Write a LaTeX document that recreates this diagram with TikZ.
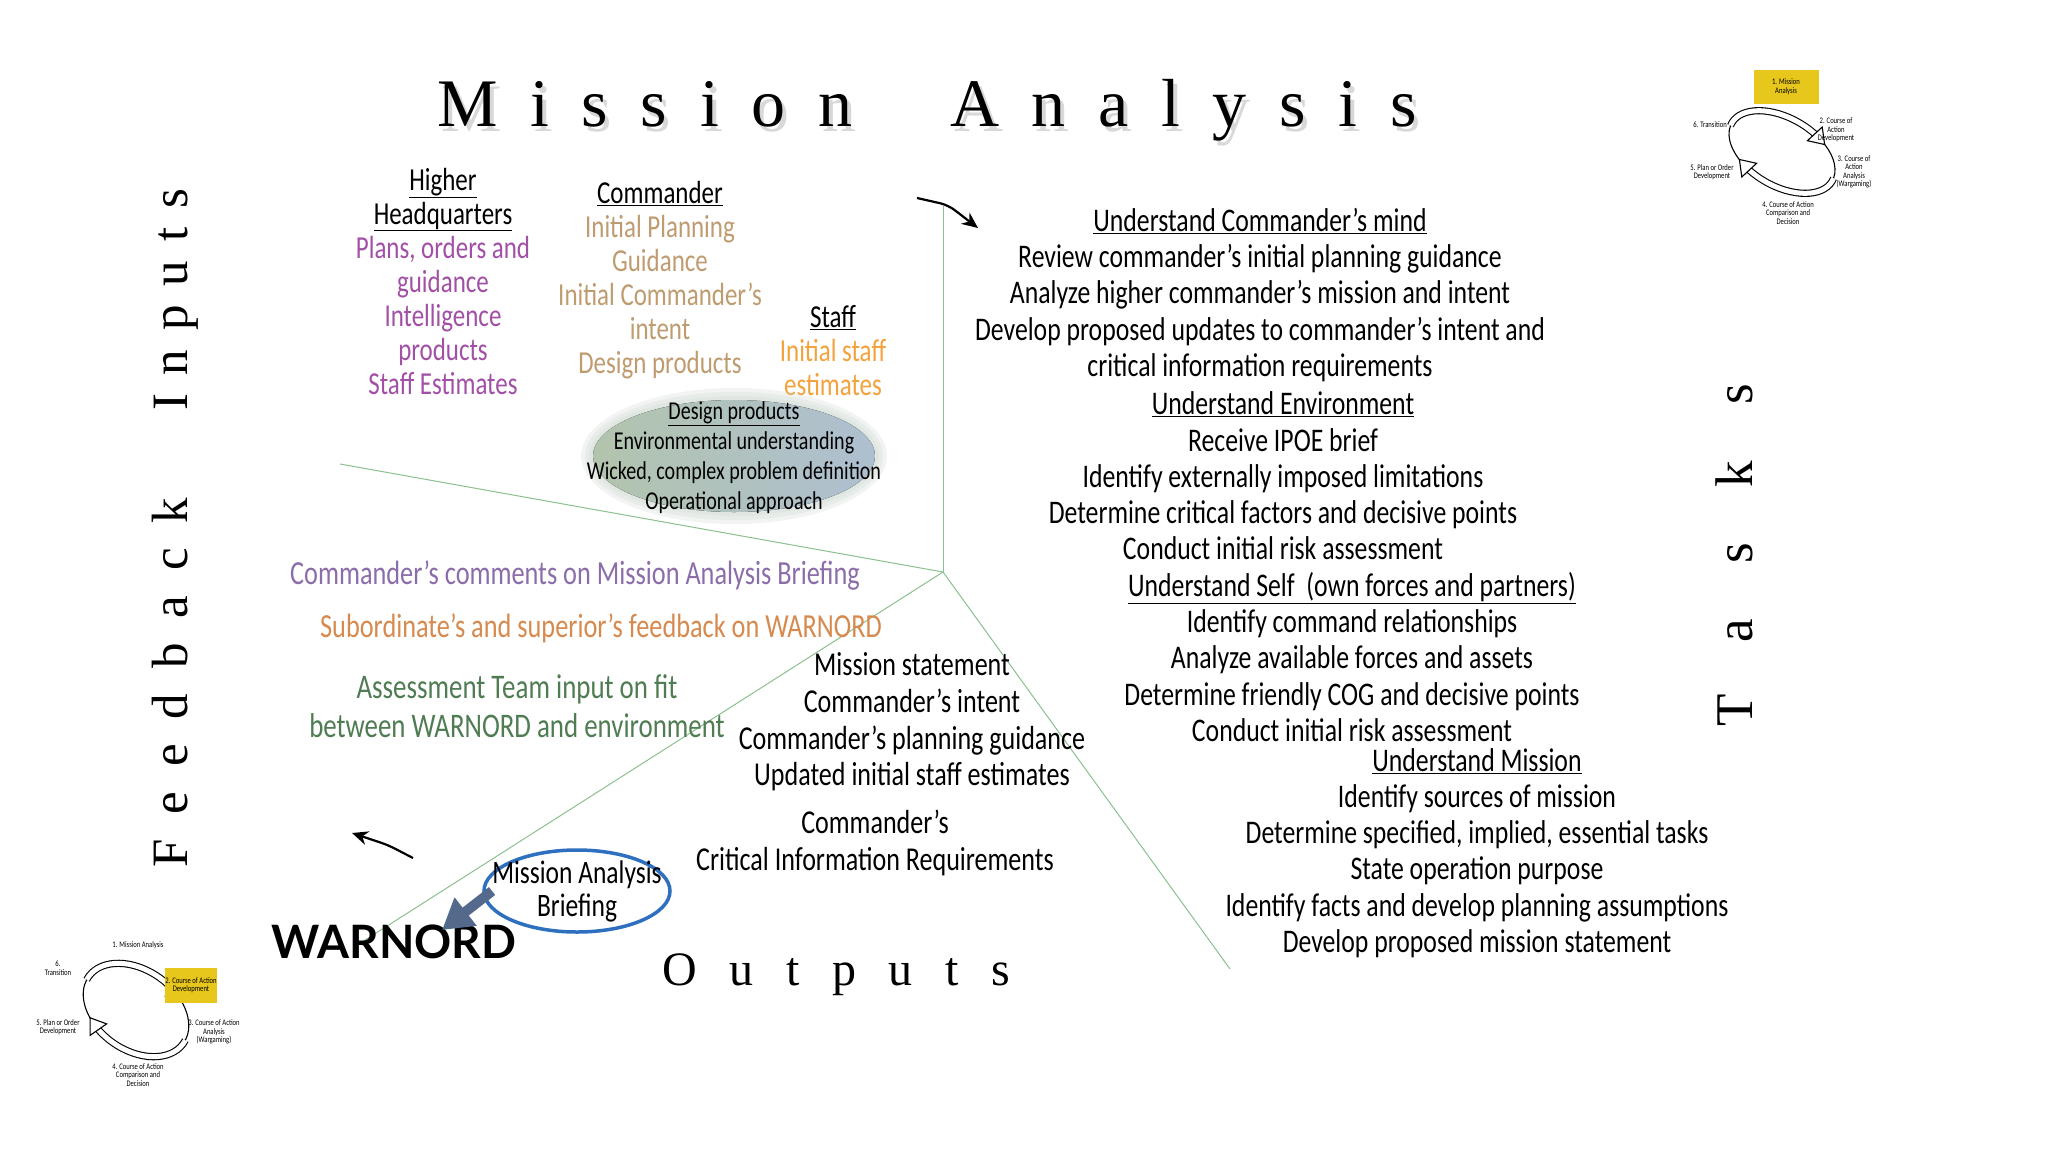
\documentclass[tikz,border=0pt]{standalone}
\usepackage{fontspec}
\setmainfont{Carlito}[FakeStretch=0.78]
\newfontfamily\headfont{Liberation Serif}
\newfontfamily\boldsans{Lato}
\usetikzlibrary{shapes.geometric, arrows.meta}

\definecolor{hhqpurple}{HTML}{A24FA6}
\definecolor{cdrtan}{HTML}{BF9B70}
\definecolor{stafforange}{HTML}{F4A23C}
\definecolor{fblavender}{HTML}{8B6DAA}
\definecolor{fborange}{HTML}{D78A4E}
\definecolor{fbgreen}{HTML}{4F7C52}
\definecolor{axisgreen}{HTML}{8DC08F}
\definecolor{briefblue}{HTML}{2F6FC0}
\definecolor{slate}{HTML}{536A8C}
\definecolor{stepyellow}{HTML}{E8C71D}
\definecolor{dpleft}{HTML}{B2C4AC}
\definecolor{dpmid}{HTML}{D3DCD5}
\definecolor{dpright}{HTML}{AEBFD1}

\tikzset{
  txt/.style={align=center, inner sep=0pt},
  hhq/.style={txt, text=hhqpurple, font=\fontsize{32}{34}\selectfont},
  cdr/.style={txt, text=cdrtan, font=\fontsize{32}{34}\selectfont},
  staff/.style={txt, text=stafforange, font=\fontsize{32}{34}\selectfont},
  dtxt/.style={txt, font=\fontsize{25.7}{30}\selectfont},
  fbtxt/.style={txt, font=\fontsize{33.7}{39}\selectfont},
  outtxt/.style={txt, font=\fontsize{33.4}{36.6}\selectfont},
  tasktxt/.style={txt, font=\fontsize{33}{36.2}\selectfont},
  headtxt/.style={inner sep=0pt, anchor=base west},
  axis/.style={axisgreen, line width=1},
  sketcharrow/.style={line width=2.2, rounded corners=8, -{Stealth[length=16pt, width=14pt]}},
  blockarrow/.style={slate, line width=10, -{Triangle[length=30pt, width=34pt]}},
  cyctxt/.style={txt, font=\fontsize{8.5}{8.5}\selectfont},
  stepbox/.style={cyctxt, fill=stepyellow},
  ringline/.style={double=white, double distance=5, line width=1.1},
  ringback/.style={line width=1.1},
  ringtip/.style={line width=1.1, -{Triangle[fill=white, length=16pt, width=22pt]}}
}

% ring of the planning cycle
\newcommand{\cyclering}[2]{%
  \begin{scope}[#1]
    \draw[ringline] (175:58 and #2) arc[start angle=175, end angle=292, x radius=58, y radius=#2];
    \draw[ringback] (292:58 and #2) arc[start angle=292, end angle=355, x radius=58, y radius=#2];
    \draw[ringline] (355:58 and #2) arc[start angle=355, end angle=472, x radius=58, y radius=#2];
    \draw[ringback] (112:58 and #2) arc[start angle=112, end angle=175, x radius=58, y radius=#2];
    \draw[ringtip] (290:58 and #2) -- (306:58 and #2);
    \draw[ringtip] (110:58 and #2) -- (126:58 and #2);
  \end{scope}}

\begin{document}
\begin{tikzpicture}[x=1pt, y=-1pt]
\fill[white] (0,0) rectangle (2048,1152);
\useasboundingbox (0,0) rectangle (2048,1152);

% headings
\node[headtxt, text=black!30, opacity=0.5, font=\headfont\fontsize{68}{68}\selectfont] (titleshadowA) at (441,131) {\addfontfeatures{LetterSpace=48}Mission};
\node[headtxt, text=black!30, opacity=0.5, font=\headfont\fontsize{68}{68}\selectfont] (titleshadowB) at (954,131) {\addfontfeatures{LetterSpace=48}Analysis};
\node[headtxt, font=\headfont\fontsize{68}{68}\selectfont] (titleA) at (437,126) {\addfontfeatures{LetterSpace=48}Mission};
\node[headtxt, font=\headfont\fontsize{68}{68}\selectfont] (titleB) at (950,126) {\addfontfeatures{LetterSpace=48}Analysis};
\node[headtxt, rotate=90, font=\headfont\fontsize{51}{51}\selectfont] (feedback) at (187,868) {\addfontfeatures{LetterSpace=49}Feedback};
\node[headtxt, rotate=90, font=\headfont\fontsize{51}{51}\selectfont] (inputs) at (187,411) {\addfontfeatures{LetterSpace=37}Inputs};
\node[headtxt, rotate=90, font=\headfont\fontsize{53}{53}\selectfont] (tasks) at (1752,727) {\addfontfeatures{LetterSpace=105}Tasks};
\node[headtxt, font=\headfont\fontsize{48}{48}\selectfont] (outputs) at (662,985) {\addfontfeatures{LetterSpace=68}Outputs};

% axes from the hub
\coordinate (hub) at (943,572);
\coordinate (hubN) at (943,206);
\coordinate (hubW) at (340,464);
\coordinate (hubSW) at (362,942);
\coordinate (hubSE) at (1230,969);
\draw[axis] (hub) -- (hubN);
\draw[axis] (hub) -- (hubW);
\draw[axis] (hub) -- (hubSW);
\draw[axis] (hub) -- (hubSE);

% inputs
\node[hhq] (hhq) at (443,281) {\textcolor{black}{\underline{Higher}}\\ \textcolor{black}{\underline{Headquarters}}\\ Plans, orders and\\ guidance\\ Intelligence\\ products\\ Staff Estimates};
\node[cdr] (cdr) at (660,280) {\textcolor{black}{\underline{Commander}}\\ Initial Planning\\ Guidance\\ Initial Commander’s\\ intent\\ Design products};
\node[staff] (staff) at (833,351) {\textcolor{black}{\underline{Staff}}\\ Initial staff\\ estimates};
\foreach \g in {12,8,4}
  \fill[dpmid, opacity=0.3] (734,456) ellipse [x radius=141+\g, y radius=56+\g];
\fill[left color=dpleft, middle color=dpmid, right color=dpright] (734,456) ellipse [x radius=141, y radius=56];
\node[dtxt] (dprod) at (734,458) {\underline{Design products}\\ Environmental understanding\\ Wicked, complex problem definition\\ Operational approach};

% feedback
\node[fbtxt, text=fblavender] (fbcomments) at (575,576) {Commander’s comments on Mission Analysis Briefing};
\node[fbtxt, text=fborange] (fbwarnord) at (601,628) {Subordinate’s and superior’s feedback on WARNORD};
\node[fbtxt, text=fbgreen, font=\fontsize{34.5}{39}\selectfont] (fbassess) at (517,706) {Assessment Team input on fit\\ between WARNORD and environment};

% outputs
\node[outtxt] (outmain) at (912,722) {Mission statement\\ Commander's intent\\ Commander’s planning guidance\\ Updated initial staff estimates};
\node[outtxt] (outccir) at (875,843) {Commander’s\\ Critical Information Requirements};
\node[font=\boldsans\bfseries\fontsize{46}{46}\selectfont, inner sep=0pt] (warnord) at (394,942) {WARNORD};
\draw[briefblue, line width=3.5] (577,891) ellipse [x radius=93, y radius=41];
\coordinate (warntip) at (442,930);
\node[outtxt, font=\fontsize{32.7}{33}\selectfont] (mab) at (577,891) {Mission Analysis\\ Briefing};
\draw[blockarrow] (mab.west) -- (warntip);

% tasks
\node[tasktxt] (tcdr) at (1260,295) {\underline{Understand Commander’s mind}\\ Review commander’s initial planning guidance\\ Analyze higher commander’s mission and intent\\ Develop proposed updates to commander’s intent and\\ critical information requirements};
\node[tasktxt] (tenv) at (1283,476) {\underline{Understand Environment}\\ Receive IPOE brief\\ Identify externally imposed limitations\\ Determine critical factors and decisive points\\ Conduct initial risk assessment};
\node[tasktxt] (tself) at (1352,657) {\underline{Understand Self\ \ (own forces and partners)}\\ Identify command relationships\\ Analyze available forces and assets\\ Determine friendly COG and decisive points\\ Conduct initial risk assessment};
\node[tasktxt] (tmis) at (1477,853) {\underline{Understand Mission}\\ Identify sources of mission\\ Determine specified, implied, essential tasks\\ State operation purpose\\ Identify facts and develop planning assumptions\\ Develop proposed mission statement};

% hand drawn arrows
\coordinate (ptA1) at (917,198);
\coordinate (ptA2) at (948,205);
\coordinate (ptA3) at (978,228);
\draw[sketcharrow] (ptA1) -- (ptA2) -- (ptA3);
\coordinate (fbA1) at (413,858);
\coordinate (fbA2) at (388,845);
\coordinate (fbA3) at (352,833);
\draw[sketcharrow] (fbA1) -- (fbA2) -- (fbA3);

% planning cycle, top right
\cyclering{shift={(1782,152)}, rotate=-30}{34}
\node[stepbox, minimum width=65, minimum height=34] (tr1) at (1786,87) {1. Mission\\ Analysis};
\node[cyctxt] (tr6) at (1710,125) {6. Transition};
\node[cyctxt] (tr2) at (1836,130) {2. Course of\\ Action\\ Development};
\node[cyctxt] (tr3) at (1854,172) {3. Course of\\ Action\\ Analysis\\ (Wargaming)};
\node[cyctxt] (tr4) at (1788,213) {4. Course of Action\\ Comparison and\\ Decision};
\node[cyctxt] (tr5) at (1712,172) {5. Plan or Order\\ Development};

% planning cycle, bottom left
\cyclering{shift={(136,1010)}, rotate=-35}{40}
\node[cyctxt] (bl1) at (138,945) {1. Mission Analysis};
\node[cyctxt] (bl6) at (58,968) {6.\\ Transition};
\node[stepbox, minimum width=52, minimum height=35] (bl2) at (191,985) {2. Course of Action\\ Development};
\node[cyctxt] (bl3) at (214,1032) {3. Course of Action\\ Analysis\\ (Wargaming)};
\node[cyctxt] (bl4) at (138,1075) {4. Course of Action\\ Comparison and\\ Decision};
\node[cyctxt] (bl5) at (58,1027) {5. Plan or Order\\ Development};
\end{tikzpicture}
\end{document}
